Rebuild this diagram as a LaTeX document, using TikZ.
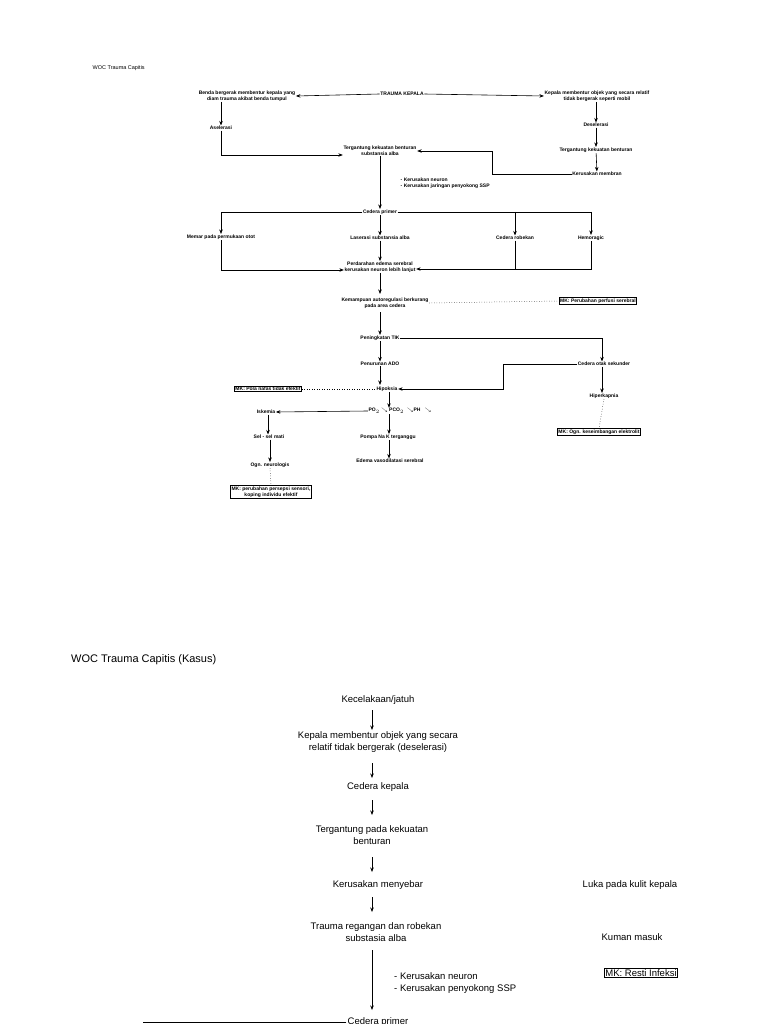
\documentclass[tikz,border=0pt]{standalone}
\usepackage{fontspec}
\setmainfont{Liberation Sans}
\usetikzlibrary{arrows.meta}
\begin{document}
\begin{tikzpicture}[x=1pt,y=-1pt,
  t/.style={font=\fontsize{5}{5.8}\selectfont\bfseries,align=center,inner sep=0.5pt},
  b/.style={font=\fontsize{9.5}{12}\selectfont,align=center,inner sep=1pt},
  box/.style={draw,line width=0.7pt,inner sep=1pt},
  ar/.style={-{Stealth[length=4.5pt,width=3.5pt]},line width=0.6pt},
  ln/.style={line width=0.6pt},
  dt/.style={dotted,line width=0.5pt}]
\useasboundingbox (0,0) rectangle (768,1024);
\node[t,anchor=west,font=\fontsize{5.5}{6}\selectfont] (title) at (92,68) {WOC Trauma Capitis};
\node[t] (tk) at (402,94) {TRAUMA KEPALA};
\node[t] (bb) at (247,96) {Benda bergerak membentur kepala yang\\diam trauma akibat benda tumpul};
\node[t] (km) at (597,96) {Kepala membentur objek yang secara relatif\\tidak bergerak seperti mobil};
\draw[ar] (tk.west) -- (bb.east);
\draw[ar] (tk.east) -- (km.west);
\node[t] (as) at (221,128) {Aselerasi};
\node[t] (de) at (596,125) {Deselerasi};
\draw[ar] (bb.south -| as) -- (as);
\draw[ar] (km.south -| de) -- (de);
\node[t] (tr) at (596,150) {Tergantung kekuatan benturan};
\node[t] (kmb) at (597,174) {Kerusakan membran};
\draw[ar] (de) -- (tr);
\draw[ar] (tr) -- (kmb);
\node[t] (tc) at (380,151) {Tergantung kekuatan benturan\\substansia alba};
\draw[ar] (as.south) -- (221,155) -- (tc.west |- 0,155);
\draw[ln] (kmb.west) -- (492,174) coordinate (c1);
\draw[ar] (c1) -- (492,151) -- (tc.east);
\node[t,align=left,anchor=west] (bul) at (400,183) {- Kerusakan neuron\\- Kerusakan jaringan penyokong SSP};
\node[t] (cp) at (380,212) {Cedera primer};
\draw[ar] (tc.south) -- (cp.north);
\node[t] (me) at (221,237) {Memar pada permukaan otot};
\node[t] (la) at (380,238) {Laserasi substansia alba};
\node[t] (cr) at (515,238) {Cedera robekan};
\node[t] (he) at (591,238) {Hemoragic};
\draw[ar] (cp.west) -- (221,212) -- (me.north);
\draw[ar] (cp) -- (la);
\draw[ln] (cp.east) -- (591,212) coordinate (c2);
\draw[ar] (c2) -- (he.north);
\draw[ar] (515,212) -- (cr.north);
\node[t] (pe) at (380,267) {Perdarahan edema serebral\\kerusakan neuron lebih lanjut};
\draw[ar] (la) -- (pe);
\draw[ar] (me.south) -- (221,270) -- (pe.west |- 0,270);
\draw[ar] (he.south) -- (591,269) -- (pe.east |- 0,269);
\draw[line width=0.9pt] (cr.south) -- (515,269);
\node[t] (ka) at (385,303) {Kemampuan autoregulasi berkurang\\pada area cedera};
\draw[ar] (pe.south -| 380,0) -- (380,294);
\node[t,box] (mk1) at (598,301) {MK: Perubahan perfusi serebral};
\draw[dt] (ka.east) -- (mk1.west);
\node[t] (ptik) at (380,338) {Peningkatan TIK};
\draw[ar] (380,312) -- (ptik.north);
\node[t] (cos) at (604,364) {Cedera otak sekunder};
\draw[ar] (ptik.east) -- (602,338) -- (cos.north -| 602,0);
\node[t] (ado) at (380,364) {Penurunan ADO};
\draw[ar] (ptik) -- (ado);
\node[t] (hip) at (387,389) {Hipoksia};
\draw[ar] (ado.south -| 380,0) -- (380,385);
\draw[ar] (cos.west) -- (503,364) -- (503,389) -- (hip.east);
\node[t,box] (mk2) at (268,389) {MK: Pola nafas tidak efektif};
\draw[dt] (mk2.east) -- (hip.west);
\node[t] (hk) at (604,396) {Hiperkapnia};
\draw[ar] (cos.south -| 602,0) -- (hk.north -| 602,0);
\node[t,box] (mk3) at (599,432) {MK: Ogn. keseimbangan elektrolit};
\draw[dt] (hk.south) -- (mk3.north);
\node[t] (po) at (400,411) {PO$_2$ $\searrow$ PCO$_2$ \ $\searrow$PH \ \ $\searrow$};
\draw[ar] (hip.south -| 389,0) -- (po.north -| 389,0);
\node[t] (isk) at (266,412) {Iskemia};
\draw[ar] (po.west) -- (isk.east);
\node[t] (sel) at (269,437) {Sel - sel mati};
\node[t] (ogn) at (270,465) {Ogn. neurologis};
\draw[ar] (isk.south -| 268,0) -- (sel.north -| 268,0);
\draw[ar] (sel.south -| 270,0) -- (ogn.north -| 270,0);
\node[t,box] (mk4) at (271,492) {MK: perubahan persepsi sensori,\\koping individu efektif};
\draw[dt] (ogn.south) -- (mk4.north);
\node[t] (pom) at (388,437) {Pompa Na K terganggu};
\node[t] (ede) at (390,461) {Edema vasodilatasi serebral};
\draw[ar] (po.south -| 389,0) -- (pom.north -| 389,0);
\draw[ar] (pom.south -| 389,0) -- (ede.north -| 389,0);
% bottom
\node[b,anchor=west,font=\fontsize{11}{13}\selectfont] (t2) at (70,660) {WOC Trauma Capitis (Kasus)};
\node[b] (k1) at (378,700) {Kecelakaan/jatuh};
\node[b] (k2) at (378,742) {Kepala membentur objek yang secara\\relatif tidak bergerak (deselerasi)};
\node[b] (k3) at (378,787) {Cedera kepala};
\node[b] (k4) at (372,835) {Tergantung pada kekuatan\\benturan};
\node[b] (k5) at (378,885) {Kerusakan menyebar};
\node[b] (k6) at (376,932) {Trauma regangan dan robekan\\substasia alba};
\node[b] (lu) at (630,885) {Luka pada kulit kepala};
\node[b] (ku) at (632,937) {Kuman masuk};
\node[b,box] (mk5) at (641,973) {MK: Resti Infeksi};
\node[b,align=left,anchor=west] (bu2) at (393,983) {- Kerusakan neuron\\- Kerusakan penyokong SSP};
\node[b,anchor=north] (k7) at (378,1016) {Cedera primer};
\draw[ar] (372,710) -- (372,730);
\draw[ar] (372,763) -- (372,778);
\draw[ar] (372,800) -- (372,815);
\draw[ar] (372,857) -- (372,872);
\draw[ar] (372,897) -- (372,912);
\draw[ar] (372,950) -- (372,1010);
\draw[ln] (k7.west |- 0,1022) -- (143,1022);
\end{tikzpicture}
\end{document}
